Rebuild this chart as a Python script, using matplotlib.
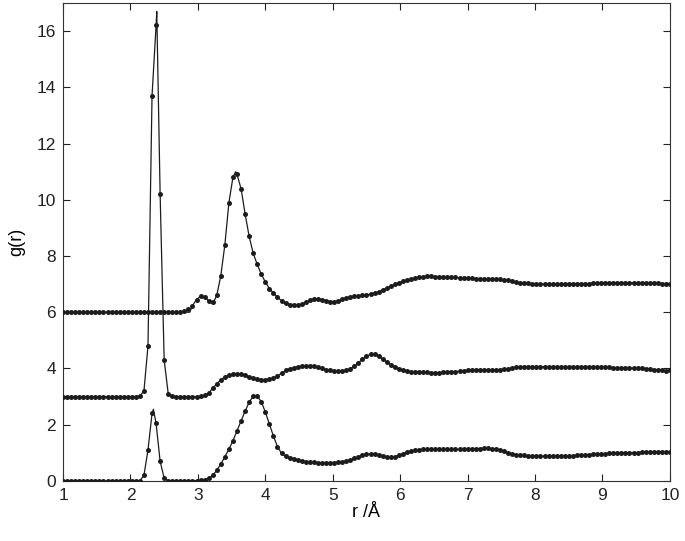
import numpy as np
import matplotlib
matplotlib.use('Agg')
import matplotlib.pyplot as plt

# radial grid of the data points
r_start = 1.0
r_step = 0.06

# lowest curve (no offset)
g_low = [0.0, 0.0, 0.0, 0.0, 0.0, 0.0, 0.0, 0.0, 0.0, 0.0,
         0.0, 0.0, 0.0, 0.0, 0.0, 0.0, 0.0, 0.0, 0.0, 0.01,
         0.2, 1.1, 2.4, 2.05, 0.7, 0.1, 0.01, 0.0, 0.0, 0.0,
         0.0, 0.0, 0.0, 0.01, 0.03, 0.05, 0.1, 0.2, 0.38, 0.6,
         0.86, 1.13, 1.43, 1.78, 2.13, 2.48, 2.8, 3.01, 3.02, 2.82,
         2.45, 2.02, 1.6, 1.22, 0.98, 0.87, 0.82, 0.79, 0.75, 0.71,
         0.69, 0.67, 0.66, 0.65, 0.65, 0.64, 0.64, 0.65, 0.66, 0.68,
         0.71, 0.75, 0.8, 0.86, 0.91, 0.95, 0.96, 0.95, 0.91, 0.87,
         0.84, 0.84, 0.86, 0.91, 0.97, 1.02, 1.06, 1.09, 1.11, 1.12,
         1.13, 1.13, 1.13, 1.13, 1.12, 1.12, 1.12, 1.12, 1.12, 1.13,
         1.14, 1.14, 1.15, 1.15, 1.16, 1.16, 1.15, 1.13, 1.1, 1.06,
         1.01, 0.97, 0.94, 0.92, 0.91, 0.9, 0.89, 0.89, 0.88, 0.88,
         0.88, 0.88, 0.88, 0.88, 0.89, 0.89, 0.9, 0.91, 0.92, 0.93,
         0.94, 0.95, 0.96, 0.97, 0.97, 0.98, 0.99, 0.99, 1.0, 1.0,
         1.01, 1.01, 1.01, 1.02, 1.02, 1.02, 1.02, 1.03, 1.03, 1.03,
         1.04]

# middle curve (offset by 3)
g_mid = [3.0, 3.0, 3.0, 3.0, 3.0, 3.0, 3.0, 3.0, 3.0, 3.0,
         3.0, 3.0, 3.0, 3.0, 3.0, 3.0, 3.0, 3.0, 3.0, 3.02,
         3.2, 4.8, 13.7, 16.2, 10.2, 4.3, 3.1, 3.02, 3.0, 3.0,
         3.0, 3.0, 3.0, 3.0, 3.01, 3.05, 3.13, 3.3, 3.46, 3.6,
         3.7, 3.76, 3.8, 3.82, 3.8, 3.76, 3.7, 3.65, 3.62, 3.6,
         3.59, 3.61, 3.66, 3.73, 3.83, 3.93, 3.99, 4.03, 4.06, 4.08,
         4.1, 4.1, 4.08, 4.04, 4.0, 3.96, 3.93, 3.91, 3.9, 3.9,
         3.93, 3.99, 4.08, 4.2, 4.33, 4.44, 4.5, 4.5, 4.44, 4.34,
         4.23, 4.14, 4.06, 3.99, 3.94, 3.91, 3.89, 3.88, 3.87, 3.86,
         3.86, 3.85, 3.85, 3.85, 3.86, 3.87, 3.88, 3.89, 3.9, 3.92,
         3.93, 3.94, 3.94, 3.94, 3.95, 3.95, 3.95, 3.96, 3.96, 3.97,
         3.99, 4.02, 4.05, 4.06, 4.07, 4.07, 4.07, 4.07, 4.07, 4.06,
         4.06, 4.05, 4.05, 4.05, 4.05, 4.05, 4.05, 4.06, 4.06, 4.07,
         4.06, 4.06, 4.05, 4.05, 4.04, 4.04, 4.03, 4.03, 4.03, 4.02,
         4.02, 4.01, 4.01, 4.0, 3.99, 3.98, 3.96, 3.95, 3.93, 3.92,
         3.94]

# top curve (offset by 6)
g_top = [6.0, 6.0, 6.0, 6.0, 6.0, 6.0, 6.0, 6.0, 6.0, 6.0,
         6.0, 6.0, 6.0, 6.0, 6.0, 6.0, 6.0, 6.0, 6.0, 6.0,
         6.0, 6.0, 6.0, 6.0, 6.0, 6.0, 6.0, 6.0, 6.0, 6.02,
         6.05, 6.1, 6.24, 6.45, 6.58, 6.55, 6.4, 6.35, 6.6, 7.3,
         8.4, 9.9, 10.8, 10.9, 10.4, 9.5, 8.7, 8.1, 7.7, 7.35,
         7.08, 6.84, 6.68, 6.53, 6.41, 6.33, 6.27, 6.25, 6.25, 6.29,
         6.35, 6.42, 6.47, 6.48, 6.45, 6.41, 6.38, 6.38, 6.41, 6.46,
         6.51, 6.55, 6.57, 6.58, 6.6, 6.62, 6.64, 6.67, 6.73, 6.8,
         6.86, 6.92, 6.99, 7.05, 7.1, 7.15, 7.19, 7.22, 7.25, 7.27,
         7.28, 7.28, 7.27, 7.26, 7.25, 7.25, 7.24, 7.24, 7.23, 7.22,
         7.21, 7.21, 7.2, 7.2, 7.19, 7.19, 7.18, 7.18, 7.17, 7.15,
         7.13, 7.1, 7.07, 7.05, 7.04, 7.03, 7.02, 7.01, 7.0, 7.0,
         7.0, 6.99, 6.99, 6.99, 7.0, 7.0, 7.0, 7.01, 7.01, 7.02,
         7.02, 7.03, 7.03, 7.04, 7.04, 7.05, 7.05, 7.05, 7.05, 7.05,
         7.05, 7.05, 7.05, 7.04, 7.04, 7.03, 7.03, 7.03, 7.02, 7.02,
         7.02]

# the solid line differs from the dots near the peak tips
low_line_r = [2.34]
low_line_g = [2.55]
mid_line_r = [2.39]
mid_line_g = [16.7]
top_line_r = [2.80, 2.86, 2.88, 3.22, 3.56]
top_line_g = [6.0, 6.0, 6.0, 6.3, 11.0]


def line_points(r, g, extra_r, extra_g):
    pts = dict(zip(np.round(r, 2), g))
    for er, eg in zip(extra_r, extra_g):
        pts[round(er, 2)] = eg
    keys = sorted(pts)
    return keys, [pts[k] for k in keys]


plt.rcParams['font.family'] = ['Liberation Sans', 'DejaVu Sans']

fig = plt.figure(figsize=(6.85, 5.41), dpi=100)
ax = fig.add_axes([0.092, 0.111, 0.886, 0.8835])

col = '#1c1c1c'
for g, er, eg in [(g_low, low_line_r, low_line_g),
                  (g_mid, mid_line_r, mid_line_g),
                  (g_top, top_line_r, top_line_g)]:
    r = r_start + r_step * np.arange(len(g))
    lr, lg = line_points(r, g, er, eg)
    ax.plot(lr, lg, color=col, lw=0.9, zorder=2)
    ax.plot(r, g, 'o', color=col, ms=3.6, mew=0, zorder=3)

ax.set_xlim(1, 10)
ax.set_ylim(0, 17)
ax.set_xticks(range(1, 11))
ax.set_yticks(range(0, 17, 2))
ax.tick_params(direction='in', top=True, right=True, length=5, width=0.8,
               labelsize=12.5, colors='#222222', pad=5)
for s in ax.spines.values():
    s.set_color('#333333')
    s.set_linewidth(0.8)
ax.set_xlabel('r /Å', fontsize=13, labelpad=1)
ax.set_ylabel('g(r)', fontsize=13, labelpad=8)

fig.savefig('out.png', dpi=100)
print('Saving out.png')
